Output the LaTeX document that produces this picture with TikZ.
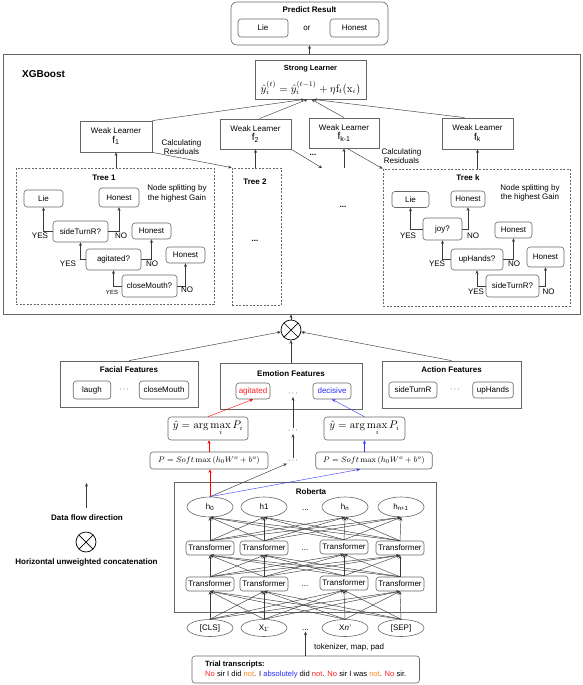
\documentclass[tikz,border=0pt]{standalone}
\usepackage[no-math]{fontspec}
\setmainfont{Liberation Sans}
\usetikzlibrary{calc,shapes.geometric,arrows.meta}
\definecolor{boxgray}{HTML}{666666}
\definecolor{linegray}{HTML}{3a3a3a}
\definecolor{txtred}{HTML}{FF2020}
\definecolor{txtblue}{HTML}{2828FF}
\definecolor{txtorange}{HTML}{FF8C1A}
\tikzstyle{sbox}=[rectangle, draw=boxgray, line width=0.8pt, inner sep=0pt, font=\fontsize{8}{9.5}\selectfont]
\tikzstyle{treebox}=[rectangle, draw=boxgray, line width=0.7pt, dash pattern=on 2pt off 1.5pt, inner sep=0pt]
\tikzstyle{cell}=[rectangle, rounded corners=3pt, draw=boxgray, line width=0.6pt, inner sep=1pt, font=\fontsize{8}{9.5}\selectfont]
\tikzstyle{annot}=[inner sep=1pt, font=\fontsize{8}{9.5}\selectfont]
\tikzstyle{hdr}=[inner sep=1pt, font=\fontsize{8}{9.5}\selectfont\bfseries]
\tikzstyle{tok}=[ellipse, draw=boxgray, line width=0.6pt, inner sep=0pt, minimum width=46pt, minimum height=19pt, font=\fontsize{8}{9.5}\selectfont]
\tikzstyle{trf}=[cell, minimum width=48pt, minimum height=14pt]
\tikzstyle{concat}=[circle, draw=black, line width=0.7pt, minimum size=20pt, inner sep=0pt, path picture={\draw [line width=0.7pt] (path picture bounding box.north west) -- (path picture bounding box.south east) (path picture bounding box.north east) -- (path picture bounding box.south west);}]
\tikzstyle{flow}=[->, draw=linegray, line width=0.45pt]

\begin{document}
\begin{tikzpicture}[x=1pt, y=-1pt, >={Stealth[length=3.5pt, width=3pt]}]
\useasboundingbox (0,0) rectangle (582,685);

\node [cell, rounded corners=6pt, minimum width=157pt, minimum height=43pt] (pr) at (309.5,23.5) {};
\node [hdr] (prt) at (309.5,10) {Predict Result};
\node [cell, minimum width=50pt, minimum height=18pt] (lie) at (263,28) {Lie};
\node [annot] (or) at (307,28) {or};
\node [cell, minimum width=49pt, minimum height=18pt] (hon) at (354.5,28) {Honest};

\node [sbox, minimum width=577pt, minimum height=260pt] (xgb) at (291.5,184) {};
\node [hdr, font=\fontsize{10}{12}\selectfont\bfseries] (xgbt) at (43.5,74) {XGBoost};

\node [sbox, minimum width=111pt, minimum height=39pt] (sl) at (310.5,79.5) {};
\node [hdr, font=\fontsize{7.4}{9}\selectfont\bfseries] (slt) at (310.5,68.5) {Strong Learner};
\node [annot, font=\fontsize{10.5}{12}\selectfont] (slf) at (310.5,88) {$\hat{y}_i^{(t)}=\hat{y}_i^{(t-1)}+\eta\mathrm{f}_t(\mathrm{x}_i)$};

\node [sbox, minimum width=72pt, minimum height=31pt, align=center] (wl1) at (116,136.5) {Weak Learner\\{\fontsize{10}{11}\selectfont f\textsubscript{1}}};
\node [sbox, minimum width=71pt, minimum height=30pt, align=center] (wl2) at (255.5,134) {Weak Learner\\{\fontsize{10}{11}\selectfont f\textsubscript{2}}};
\node [sbox, minimum width=70pt, minimum height=30pt, align=center] (wlk1) at (344,133) {Weak Learner\\{\fontsize{10}{11}\selectfont f\textsubscript{k-1}}};
\node [sbox, minimum width=71pt, minimum height=31pt, align=center] (wlk) at (477.5,133.5) {Weak Learner\\{\fontsize{10}{11}\selectfont f\textsubscript{k}}};

\node [annot, align=center] (res1) at (181.5,147) {Calculating\\Residuals};
\node [annot, align=center] (res2) at (401.5,156) {Calculating\\Residuals};
\node [annot, font=\fontsize{8}{9.5}\selectfont\bfseries] (dtop) at (313,155) {...};
\coordinate (midtop) at (322,168);

\node [treebox, minimum width=198pt, minimum height=136pt] (tree1) at (115,236) {};
\node [treebox, minimum width=49pt, minimum height=137pt] (tree2) at (256.5,236.5) {};
\node [treebox, minimum width=187pt, minimum height=137pt] (treek) at (476.5,237.5) {};
\node [annot, font=\fontsize{8}{9.5}\selectfont\bfseries] (dmid) at (343,207) {...};

\node [hdr] (t1t) at (104,178) {Tree 1};
\node [annot, align=center] (t1n) at (177,193.5) {Node splitting by\\the highest Gain};
\node [cell, minimum width=39pt, minimum height=17pt] (t1lie) at (43.5,198.5) {Lie};
\node [cell, minimum width=40pt, minimum height=19pt] (t1h1) at (119,197.5) {Honest};
\node [cell, minimum width=55pt, minimum height=21pt] (t1q1) at (80.5,231.5) {sideTurnR?};
\node [cell, minimum width=39pt, minimum height=16pt] (t1h2) at (151.5,231) {Honest};
\node [cell, minimum width=55pt, minimum height=21pt] (t1q2) at (113.5,259.5) {agitated?};
\node [cell, minimum width=39pt, minimum height=16pt] (t1h3) at (185.5,255) {Honest};
\node [cell, minimum width=55pt, minimum height=22pt] (t1q3) at (149.5,286) {closeMouth?};
\node [annot] (t1y1) at (40,236) {YES};
\node [annot] (t1n1) at (121,236) {NO};
\node [annot] (t1y2) at (68,264) {YES};
\node [annot] (t1n2) at (152,264) {NO};
\node [annot, font=\fontsize{6}{7}\selectfont] (t1y3) at (112,292) {YES};
\node [annot] (t1n3) at (187,290) {NO};

\node [hdr] (t2t) at (255,182) {Tree 2};
\node [annot, font=\fontsize{8}{9.5}\selectfont\bfseries] (t2d) at (255,241) {...};

\node [hdr] (tkt) at (468,178) {Tree k};
\node [annot, align=center] (tkn) at (530,193) {Node splitting by\\the highest Gain};
\node [cell, minimum width=37pt, minimum height=16pt] (tklie) at (410.5,199.5) {Lie};
\node [cell, minimum width=34pt, minimum height=16pt] (tkh1) at (468,199) {Honest};
\node [cell, minimum width=39pt, minimum height=22pt] (tkq1) at (442.5,229) {joy?};
\node [cell, minimum width=37pt, minimum height=16pt] (tkh2) at (513.5,230) {Honest};
\node [cell, minimum width=52pt, minimum height=21pt] (tkq2) at (477,259.5) {upHands?};
\node [cell, minimum width=37pt, minimum height=20pt] (tkh3) at (545.5,257) {Honest};
\node [cell, minimum width=53pt, minimum height=22pt] (tkq3) at (512.5,286) {sideTurnR?};
\node [annot] (tky1) at (408,236) {YES};
\node [annot] (tkn1) at (473,236) {NO};
\node [annot] (tky2) at (437,264) {YES};
\node [annot] (tkn2) at (514,264) {NO};
\node [annot] (tky3) at (476,292) {YES};
\node [annot] (tkn3) at (548.5,292) {NO};

\node [concat] (cat) at (291,330) {};

\node [sbox, minimum width=138pt, minimum height=46pt] (ff) at (129,384) {};
\node [hdr] (fft) at (129,370) {Facial Features};
\node [cell, minimum width=37.5pt, minimum height=18pt] (laugh) at (92,390) {laugh};
\node [annot] (ffd) at (124,390) {$\cdots$};
\node [cell, minimum width=49.5pt, minimum height=18pt] (close) at (164,390) {closeMouth};

\node [sbox, minimum width=142pt, minimum height=46pt] (ef) at (291,386) {};
\node [hdr] (eft) at (291,374) {Emotion Features};
\node [cell, minimum width=34pt, minimum height=16pt, text=txtred] (agit) at (253,391) {agitated};
\node [annot] (d1) at (293,394) {$\cdots$};
\node [cell, minimum width=38pt, minimum height=16pt, text=txtblue] (decis) at (332,391) {decisive};

\node [sbox, minimum width=139pt, minimum height=47pt] (af) at (451.5,384.5) {};
\node [hdr] (aft) at (451.5,370) {Action Features};
\node [cell, minimum width=48pt, minimum height=16pt] (side) at (413,390) {sideTurnR};
\node [annot] (afd) at (455,390) {$\cdots$};
\node [cell, minimum width=40.5pt, minimum height=16pt] (uph) at (493,390) {upHands};

\node [cell, minimum width=80pt, minimum height=23pt, inner sep=0pt, font=\fontsize{10.5}{12}\selectfont] (am1) at (208,428.5) {$\hat{y}=\arg\max\limits_i P_i$};
\node [cell, minimum width=81pt, minimum height=23pt, inner sep=0pt, font=\fontsize{10.5}{12}\selectfont] (am2) at (364.5,428.5) {$\hat{y}=\arg\max\limits_i P_i$};
\node [annot] (d2) at (293,431) {$\cdots$};
\node [cell, minimum width=118pt, minimum height=17pt] (sm1) at (209,460.5) {$P=Soft\max\left(h_0W^o+b^o\right)$};
\node [cell, minimum width=116.5pt, minimum height=17pt] (sm2) at (374,460.5) {$P=Soft\max\left(h_0W^o+b^o\right)$};
\node [annot] (d3) at (293,461) {$\cdots$};

\coordinate (lg0) at (86.5,508);
\coordinate (lg1) at (86.5,483);
\node [hdr] (lgt1) at (87,518) {Data flow direction};
\node [concat] (lgc) at (86,542) {};
\node [hdr] (lgt2) at (86.5,562) {Horizontal unweighted concatenation};

\node [sbox, minimum width=261.5pt, minimum height=130pt] (rob) at (305.25,547) {};
\node [hdr] (robt) at (311,492) {Roberta};

\node [tok, minimum height=20pt] (h1) at (210,507) {h\textsubscript{0}};
\node [tok, minimum height=20pt] (h2) at (264,507) {h1};
\node [annot] (hd) at (305.5,510) {...};
\node [tok, minimum height=20pt] (h3) at (345,507) {h\textsubscript{n}};
\node [tok, minimum height=20pt] (h4) at (401,507) {h\textsubscript{n+1}};

\node [trf] (ta1) at (210,548) {Transformer};
\node [trf] (ta2) at (264,548) {Transformer};
\node [annot] (tad) at (305,550) {...};
\node [trf] (ta3) at (344,547) {Transformer};
\node [trf] (ta4) at (400,548) {Transformer};

\node [trf] (tb1) at (210,584) {Transformer};
\node [trf] (tb2) at (264,584) {Transformer};
\node [annot] (tbd) at (305,586) {...};
\node [trf] (tb3) at (344,583) {Transformer};
\node [trf] (tb4) at (400,584) {Transformer};

\node [tok, minimum height=17pt] (tk1) at (210,628) {[CLS]};
\node [tok, minimum height=17pt] (tk2) at (264,628) {X\textsubscript{1'}};
\node [annot] (tkd) at (305.5,630) {...};
\node [tok, minimum height=17pt] (tk3) at (345,628) {X\textit{n'}};
\node [tok, minimum height=17pt] (tk4) at (401,628) {[SEP]};

\node [annot, anchor=west] (tok) at (313,647) {tokenizer, map, pad};
\node [cell, minimum width=227.5pt, minimum height=27pt, align=left, inner xsep=3pt, font=\fontsize{7.6}{10}\selectfont] (tr) at (305.75,669.5) {\textbf{Trial transcripts:}\\{\color{txtred}No} sir I did {\color{txtorange}not}. I {\color{txtblue}absolutely} did {\color{txtred}not}. {\color{txtred}No} sir I was {\color{txtorange}not}. {\color{txtred}No} sir.};

\draw [flow] (xgb.north -| pr.south) -- (pr.south);
\draw [flow] (wl1.north east) -- ($(sl.south)+(-6,0)$);
\draw [flow] ($(wl2.north)+(4,0)$) -- ($(sl.south)+(-3,0)$);
\draw [flow] (wlk1.north) -- ($(sl.south)+(1,0)$);
\draw [flow] ($(wlk.north)+(-13,0)$) -- ($(sl.south)+(3,0)$);

\draw [flow] (wl1.south |- tree1.north) -- (wl1.south);
\draw [flow] (wl2.south |- tree2.north) -- (wl2.south);
\draw [flow] (wlk1.south |- midtop) -- (wlk1.south);
\draw [flow] (wlk.south |- treek.north) -- (wlk.south);
\draw [flow] (wl1.south east) -- (tree2.north west);
\draw [flow] (wl2.south east) -- (midtop);
\draw [flow] ($(wlk1.south)+(3,0)$) -- (treek.north west);

\draw [flow] (t1q1.west) -| (t1lie.south);
\draw [flow] (t1q1.east) -| (t1h1.south);
\draw [flow] (t1q2.west) -| (t1q1.south);
\draw [flow] (t1q2.east) -| (t1h2.south);
\draw [flow] (t1q3.west) -| (t1q2.south);
\draw [flow] (t1q3.east) -| (t1h3.south);

\draw [flow] (tkq1.west) -| (tklie.south);
\draw [flow] (tkq1.east) -| (tkh1.south);
\draw [flow] (tkq2.west) -| (tkq1.south);
\draw [flow] (tkq2.east) -| (tkh2.south);
\draw [flow] (tkq3.west) -| (tkq2.south);
\draw [flow] (tkq3.east) -| (tkh3.south);

\draw [flow] (cat.north) -- (cat.north |- xgb.south);
\draw [flow] (ff.north) -- (cat);
\draw [flow] (ef.north) -- (cat.south);
\draw [flow] (af.north) -- (cat);

\draw [->, red, line width=0.4pt] (am1.north) -- (agit.south);
\draw [->, blue!80, line width=0.4pt] (am2.north) -- (decis.south);
\draw [->, red, line width=0.4pt] (sm1.north) -- (sm1.north |- am1.south);
\draw [->, blue!80, line width=0.4pt] (am2.south |- sm2.north) -- (am2.south);
\draw [flow] (d2) -- (d1);
\draw [flow] (d3) -- (d2);

\draw [->, red, line width=0.4pt] (h1.north) -- (h1.north |- sm1.south);
\draw [->, blue!80, line width=0.4pt] (h1.north) -- ($(sm2.south)+(-14,0)$);
\draw [flow] (h1.north) -- (d3);

\foreach \a in {1,2,3,4}
  \foreach \b in {1,2,3,4} {
    \draw [flow] (tk\a.north) -- (tb\b.south);
    \draw [flow] (tb\a.north) -- (ta\b.south);
    \draw [flow] (ta\a.north) -- (h\b.south);
  }

\draw [flow] (tr.north -| tkd) -- (tkd);
\draw [flow, line width=0.6pt] (lg0) -- (lg1);

\end{tikzpicture}
\end{document}
